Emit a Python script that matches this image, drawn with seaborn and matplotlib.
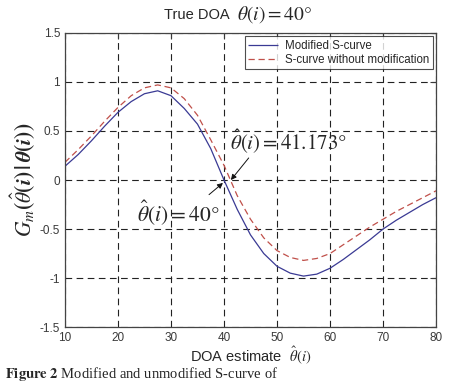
import matplotlib
matplotlib.use("Agg")
import matplotlib.pyplot as plt
import seaborn as sns
import pandas as pd
import numpy as np

# DOA estimate (degrees)
doa = [10, 12.5, 15, 17.5, 20, 22.5, 25, 27.5, 30, 32.5, 35, 37.5, 40, 42.5, 45,
       47.5, 50, 52.5, 55, 57.5, 60, 62.5, 65, 67.5, 70, 72.5, 75, 77.5, 80]
modified = [0.14, 0.26, 0.40, 0.55, 0.69, 0.80, 0.88, 0.91, 0.86, 0.73, 0.57, 0.32, 0.0, -0.30, -0.56,
            -0.75, -0.88, -0.95, -0.98, -0.96, -0.90, -0.81, -0.71, -0.61, -0.50, -0.41, -0.33, -0.25, -0.18]
unmodified = [0.18, 0.31, 0.45, 0.60, 0.74, 0.86, 0.94, 0.97, 0.94, 0.83, 0.66, 0.41, 0.15, -0.16, -0.40,
              -0.59, -0.72, -0.79, -0.82, -0.80, -0.75, -0.66, -0.57, -0.48, -0.40, -0.32, -0.25, -0.18, -0.11]
series_names = ["Modified S-curve", "S-curve without modification"]
xticks = [10, 20, 30, 40, 50, 60, 70, 80]
yticks = [-1.5, -1, -0.5, 0, 0.5, 1, 1.5]
ytick_labels = ["-1.5", "-1", "-0.5", "0", "0.5", "1", "1.5"]

sns.set_style("white")
plt.rcParams["font.family"] = ["Liberation Sans", "DejaVu Sans"]
plt.rcParams["mathtext.fontset"] = "stix"

df = pd.DataFrame({
    "doa": doa * 2,
    "G": modified + unmodified,
    "curve": [series_names[0]] * len(doa) + [series_names[1]] * len(doa),
})

fig = plt.figure(figsize=(4.74, 3.83), dpi=100)
ax = fig.add_axes([0.137, 0.146, 0.783, 0.768])

sns.lineplot(data=df, x="doa", y="G", hue="curve", style="curve",
             palette={series_names[0]: "#3a3a94", series_names[1]: "#c0504a"},
             dashes={series_names[0]: (1, 0), series_names[1]: (5, 3)},
             linewidth=0.9, ax=ax)

ax.set_xlim(10, 80)
ax.set_ylim(-1.5, 1.5)
ax.set_xticks(xticks)
ax.set_xticklabels([str(t) for t in xticks])
ax.set_yticks(yticks)
ax.set_yticklabels(ytick_labels)
ax.grid(True, color="#222222", linestyle=(0, (6, 4)), linewidth=0.8)
ax.tick_params(direction="in", length=4, labelsize=8.5, colors="#3a3a3a",
               top=True, right=True, width=0.8)
for sp in ax.spines.values():
    sp.set_color("#444444")
    sp.set_linewidth(0.9)

ax.set_xlabel(r"DOA estimate  $\hat{\theta}(i)$", fontsize=10.5, labelpad=0)
ax.set_ylabel(r"$\boldsymbol{G_m(\hat{\theta}(i)\,|\,\theta(i))}$", fontsize=15.5, labelpad=1)
fig.text(0.485, 0.962, "True DOA", fontsize=10.5, ha="right", va="center")
fig.text(0.500, 0.962, r"$\theta(i) = 40°$", fontsize=14, ha="left", va="center")

leg = ax.legend(loc="upper right", fontsize=8.3, frameon=True, fancybox=False,
                edgecolor="#222222", borderpad=0.3, handlelength=2.6,
                labelspacing=0.15, borderaxespad=0.3, handletextpad=0.6)
leg.get_frame().set_linewidth(0.8)

ax.annotate(r"$\hat{\theta}(i) = 41.173°$", xy=(41.3, 0.0), xytext=(52.2, 0.40),
            fontsize=15, ha="center", va="center",
            arrowprops=dict(arrowstyle="-|>", color="#111111", lw=0.7,
                            mutation_scale=8, shrinkA=0, shrinkB=0,
                            relpos=(0.18, 0.0)))
ax.annotate(r"$\hat{\theta}(i) = 40°$", xy=(39.8, -0.03), xytext=(31.4, -0.33),
            fontsize=15.5, ha="center", va="center",
            arrowprops=dict(arrowstyle="-|>", color="#111111", lw=0.7,
                            mutation_scale=8, shrinkA=0, shrinkB=0,
                            relpos=(0.72, 0.75)))

fig.text(0.01, 0.024, r"$\mathbf{Figure\ 2}$ Modified and unmodified S-curve of",
         fontsize=10.5, family=["Liberation Serif", "DejaVu Serif"], va="center", ha="left")

fig.savefig("out.png", dpi=100)
